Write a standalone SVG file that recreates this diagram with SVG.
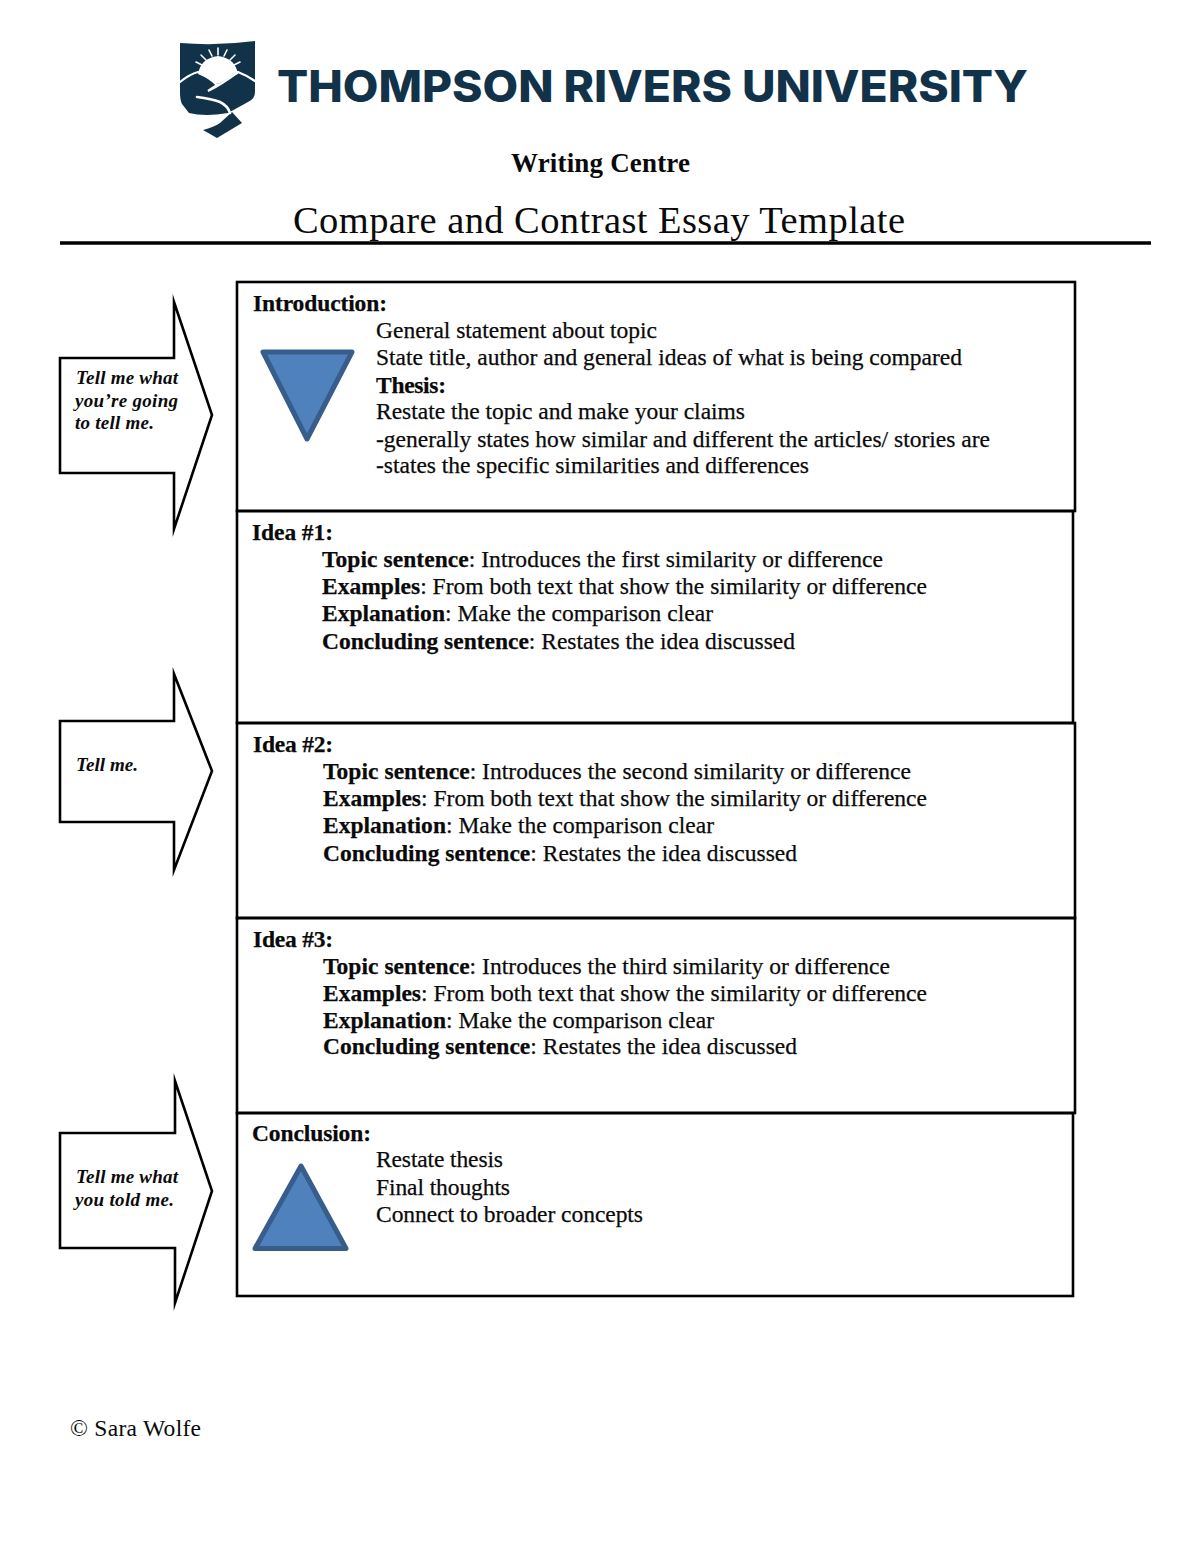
<svg xmlns="http://www.w3.org/2000/svg" width="1200" height="1553" viewBox="0 0 1200 1553">
<style>
text{font-family:"Liberation Serif","Times New Roman",serif;fill:#0a0a0a}
.b{font-weight:700}
.t{font-size:23.5px;stroke:#0a0a0a;stroke-width:.25;transform:translateY(-.7px)}
.i{font-size:19px;font-style:italic;font-weight:700}
.box{fill:none;stroke:#000;stroke-width:2.6}
.arr{fill:#fff;stroke:#000;stroke-width:2.6;stroke-miterlimit:20}
.tri{fill:#4f81bd;stroke:#385d8a;stroke-width:5;stroke-linejoin:round}
.w{stroke:#fff;fill:none;stroke-linecap:round}
</style>
<rect width="1200" height="1553" fill="#fff"/>
<g id="logo">
<path d="M180 43Q218 46 255 41V92Q255 99 248 102L228 113Q205 117 189 113L182 104Q180 100 180 92Z" fill="#12324a"/>
<path d="M232 112L242 123L217 138L203 130Q214 127 220 123Z" fill="#12324a"/>
<path d="M198 74Q201 58 218 56Q235 58 238 74Q228 78 218 84Q208 78 198 74Z" fill="#fff"/>
<g class="w" stroke-width="1.6"><path d="M218 48V55M209 50L212 56M227 50L224 56M201 55L206 60M235 55L230 60M196 62L202 65M240 62L234 65"/></g>
<path d="M180 82Q190 74 198 72Q210 78 217 85L208 91Q222 84 238 72Q248 76 255 81" class="w" stroke-width="2.2"/>
<path d="M197 97Q212 99 220 102Q228 106 230 113" class="w" stroke-width="2.6"/>
<text x="277" y="102" font-size="44" style="font-family:Inter,'Liberation Sans',sans-serif;font-weight:800;fill:#12324a" textLength="751" lengthAdjust="spacingAndGlyphs">THOMPSON RIVERS UNIVERSITY</text>
</g>
<g id="header">
<text x="511" y="172" class="b" font-size="27" textLength="179">Writing Centre</text>
<text x="293" y="232.5" font-size="38.5" textLength="612">Compare and Contrast Essay Template</text>
<path d="M60 243H1151" stroke="#000" stroke-width="3.5"/>
</g>
<g id="arrow-intro"><path class="arr" d="M60 358H174V302L212 415L174 529V473H60Z"/>
<text class="i" x="76" y="384" textLength="102">Tell me what</text><text class="i" x="75" y="407" textLength="103">you’re going</text><text class="i" x="75" y="429" textLength="79">to tell me.</text></g>
<g id="arrow-body"><path class="arr" d="M60 721H174V674L212 771L174 870V822H60Z"/>
<text class="i" x="76" y="771" textLength="62">Tell me.</text></g>
<g id="arrow-conclusion"><path class="arr" d="M60 1133H175V1081L212 1191L175 1303V1248H60Z"/>
<text class="i" x="76" y="1183" textLength="102">Tell me what</text><text class="i" x="75" y="1206" textLength="99">you told me.</text></g>
<g id="intro">
<rect class="box" x="237" y="282" width="838" height="229"/>
<path class="tri" d="M263 352H352L307 439Z"/>
<text class="t b" x="253" y="312" textLength="134">Introduction:</text>
<text class="t" x="376" y="339" textLength="281">General statement about topic</text>
<text class="t" x="376" y="366" textLength="586">State title, author and general ideas of what is being compared</text>
<text class="t b" x="376" y="394" textLength="70">Thesis:</text>
<text class="t" x="376" y="420" textLength="369">Restate the topic and make your claims</text>
<text class="t" x="376" y="448" textLength="614">-generally states how similar and different the articles/ stories are</text>
<text class="t" x="376" y="474" textLength="433">-states the specific similarities and differences</text>
</g>
<g id="idea1">
<rect class="box" x="237" y="511" width="836" height="212"/>
<text class="t b" x="252" y="541" textLength="81">Idea #1:</text>
<text class="t" x="322" y="568" textLength="561"><tspan class="b">Topic sentence</tspan>: Introduces the first similarity or difference</text>
<text class="t" x="322" y="595" textLength="605"><tspan class="b">Examples</tspan>: From both text that show the similarity or difference</text>
<text class="t" x="322" y="622" textLength="391"><tspan class="b">Explanation</tspan>: Make the comparison clear</text>
<text class="t" x="322" y="650" textLength="473"><tspan class="b">Concluding sentence</tspan>: Restates the idea discussed</text>
</g>
<g id="idea2">
<rect class="box" x="237" y="723" width="838" height="195"/>
<text class="t b" x="253" y="753" textLength="80">Idea #2:</text>
<text class="t" x="323" y="780" textLength="588"><tspan class="b">Topic sentence</tspan>: Introduces the second similarity or difference</text>
<text class="t" x="323" y="807" textLength="604"><tspan class="b">Examples</tspan>: From both text that show the similarity or difference</text>
<text class="t" x="323" y="834" textLength="391"><tspan class="b">Explanation</tspan>: Make the comparison clear</text>
<text class="t" x="323" y="862" textLength="474"><tspan class="b">Concluding sentence</tspan>: Restates the idea discussed</text>
</g>
<g id="idea3">
<rect class="box" x="237" y="918" width="838" height="195"/>
<text class="t b" x="253" y="948" textLength="80">Idea #3:</text>
<text class="t" x="323" y="975" textLength="567"><tspan class="b">Topic sentence</tspan>: Introduces the third similarity or difference</text>
<text class="t" x="323" y="1002" textLength="604"><tspan class="b">Examples</tspan>: From both text that show the similarity or difference</text>
<text class="t" x="323" y="1029" textLength="391"><tspan class="b">Explanation</tspan>: Make the comparison clear</text>
<text class="t" x="323" y="1055" textLength="474"><tspan class="b">Concluding sentence</tspan>: Restates the idea discussed</text>
</g>
<g id="conclusion">
<rect class="box" x="237" y="1113" width="836" height="183"/>
<path class="tri" d="M301 1166L346 1248.500H255Z"/>
<text class="t b" x="252" y="1142" textLength="119">Conclusion:</text>
<text class="t" x="376" y="1168" textLength="127">Restate thesis</text>
<text class="t" x="376" y="1196" textLength="134">Final thoughts</text>
<text class="t" x="376" y="1223" textLength="267">Connect to broader concepts</text>
</g>
<g id="footer"><text x="70" y="1436" font-size="23.5" textLength="131">© Sara Wolfe</text></g>
<g id="connectors"/>
</svg>
